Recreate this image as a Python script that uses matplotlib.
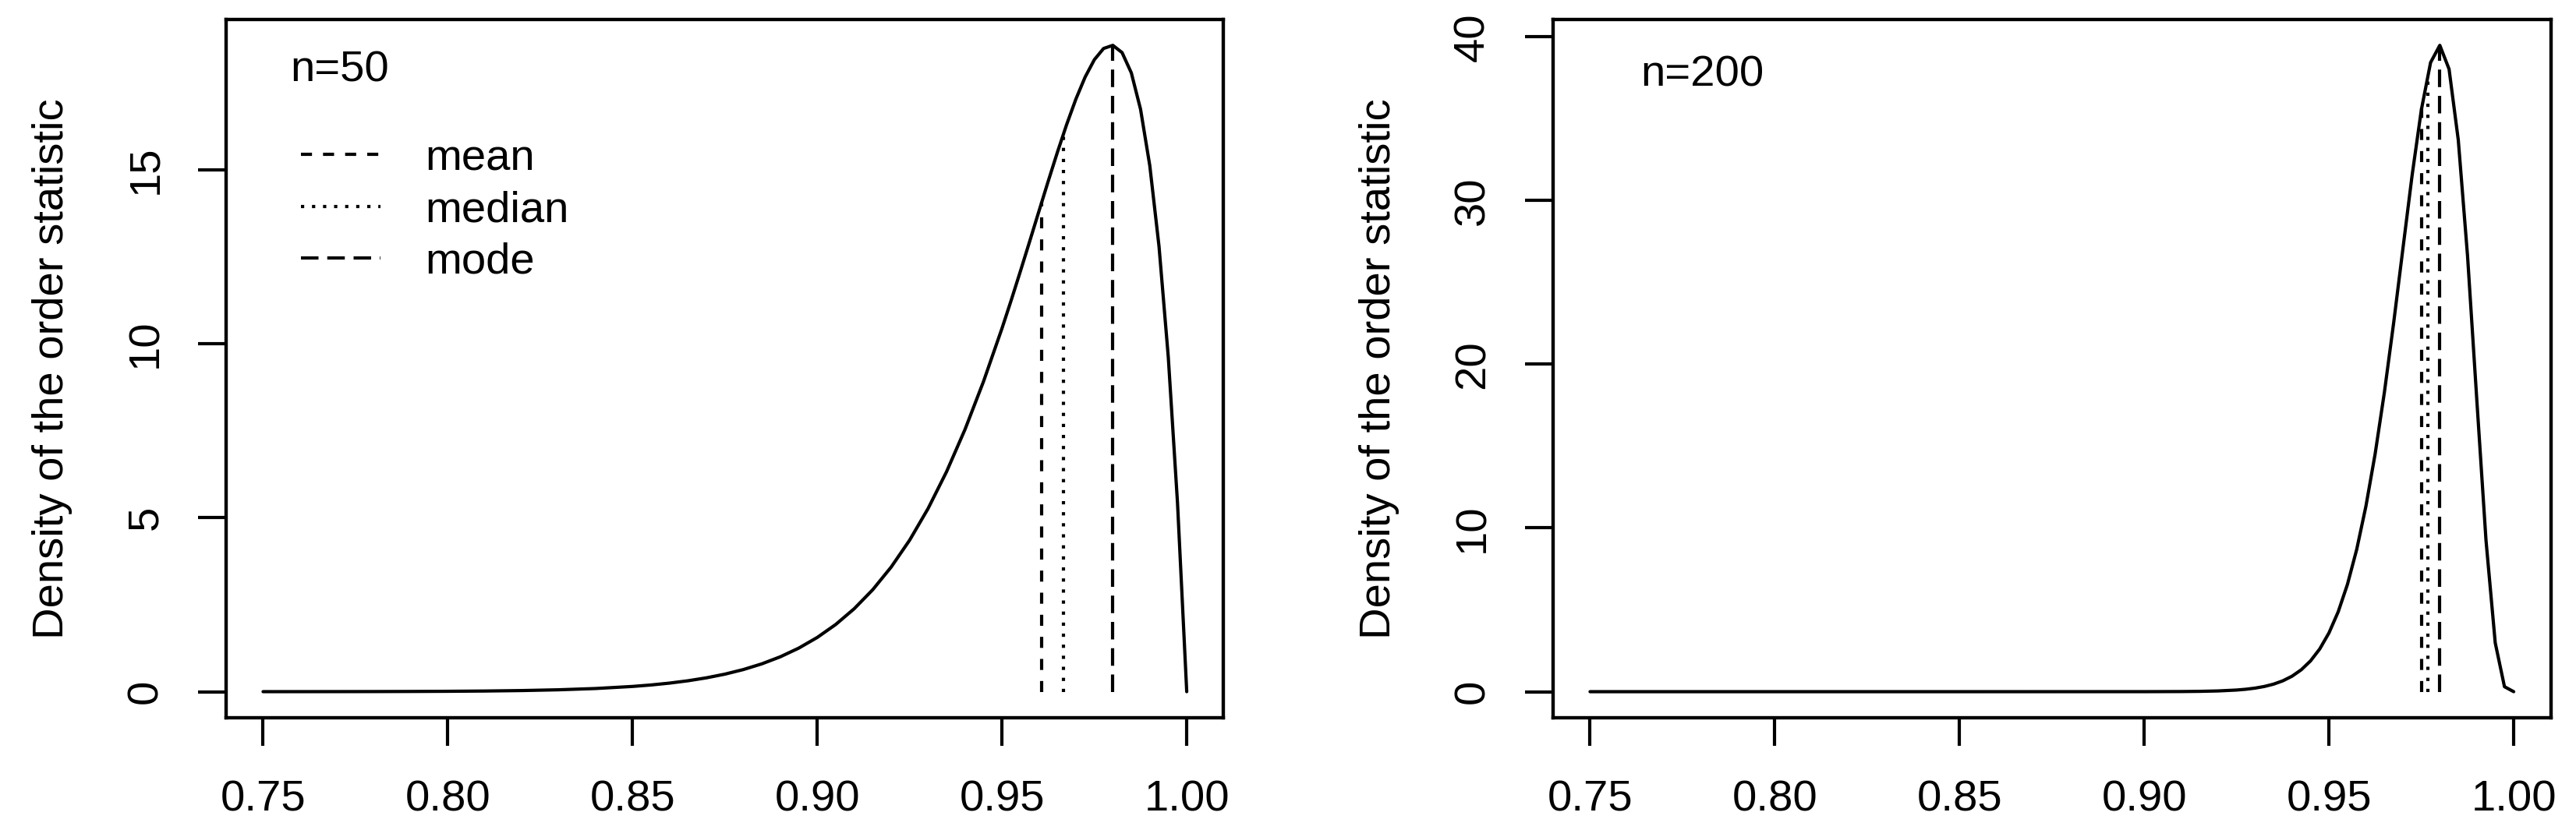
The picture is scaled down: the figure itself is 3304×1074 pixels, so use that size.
import matplotlib
matplotlib.use('Agg')
import matplotlib.pyplot as plt
from matplotlib.lines import Line2D

plt.rcParams['font.family'] = ['Liberation Sans', 'DejaVu Sans']

# density of the order statistic, n=50
x50 = [0.75, 0.76, 0.77, 0.78, 0.79, 0.80, 0.81, 0.82, 0.83, 0.84, 0.85,
       0.855, 0.86, 0.865, 0.87, 0.875, 0.88, 0.885, 0.89, 0.895, 0.90,
       0.905, 0.91, 0.915, 0.92, 0.925, 0.93, 0.935, 0.94, 0.945, 0.95,
       0.9525, 0.955, 0.9575, 0.96, 0.9625, 0.965, 0.9675, 0.97, 0.9725,
       0.975, 0.9775, 0.98, 0.9825, 0.985, 0.9875, 0.99, 0.9925, 0.995,
       0.9975, 1.0]
y50 = [0.000617, 0.001118, 0.002006, 0.003566, 0.006276, 0.01093, 0.01885,
       0.03217, 0.05438, 0.09093, 0.1505,
       0.1927, 0.2462, 0.3135, 0.3981, 0.5040, 0.6361, 0.8001, 1.0029, 1.2527, 1.5588,
       1.9320, 2.3844, 2.9296, 3.5817, 4.3553, 5.2656, 6.3245, 7.5413, 8.9179, 10.444,
       11.255, 12.093, 12.948, 13.812, 14.671, 15.508, 16.304, 17.035, 17.668,
       18.168, 18.49, 18.58, 18.372, 17.79, 16.743, 15.124, 12.80, 9.630,
       5.432, 0.0]

# density of the order statistic, n=200
x200 = [0.75, 0.80, 0.85, 0.90, 0.91, 0.915, 0.92, 0.925, 0.9275, 0.93,
        0.9325, 0.935, 0.9375, 0.94, 0.9425, 0.945, 0.9475, 0.95, 0.9525,
        0.955, 0.9575, 0.96, 0.9625, 0.965, 0.9675, 0.97, 0.9725, 0.975,
        0.9775, 0.98, 0.9825, 0.985, 0.9875, 0.99, 0.9925, 0.995, 0.9975, 1.0]
y200 = [0.0, 0.0, 0.0, 0.0015, 0.0086, 0.0199, 0.0451, 0.1002, 0.1481, 0.2176,
        0.3175, 0.4602, 0.6621, 0.9454, 1.3385, 1.8782, 2.6100, 3.5902, 4.8811,
        6.5545, 8.6825, 11.330, 14.533, 18.288, 22.517, 27.04, 31.54, 35.54,
        38.43, 39.48, 38.03, 33.69, 26.63, 17.86, 9.242, 2.981, 0.304, 0.0]

# mean, median, mode and the density at each
stats50 = [0.9608, 0.9667, 0.98]
heights50 = [14.08, 16.06, 18.58]
stats200 = [0.9751, 0.9767, 0.98]
heights200 = [35.70, 37.68, 39.48]

stat_names = ['mean', 'median', 'mode']
xticks = [0.75, 0.80, 0.85, 0.90, 0.95, 1.00]
yticks50 = [0, 5, 10, 15]
yticks200 = [0, 10, 20, 30, 40]

lw = 1.0
styles = [(0, (3.4, 3.4)), (0, (1, 2.4)), (0, (5.4, 2.7))]
fs = 13.5

fig = plt.figure(figsize=(3304 / 300, 1074 / 300), dpi=300)
ax1 = fig.add_axes([290 / 3304, 1 - 920.7 / 1074, 1279.5 / 3304, 895.7 / 1074])
ax2 = fig.add_axes([1992 / 3304, 1 - 920.7 / 1074, 1279.5 / 3304, 895.7 / 1074])


def draw(ax, x, y, stats, heights, yticks, label, label_y):
    ax.plot(x, y, color='black', lw=lw, solid_joinstyle='round', solid_capstyle='round')
    for s, h, st in zip(stats, heights, styles):
        ax.vlines(s, 0, h, colors='black', lw=lw, linestyles=[st], capstyle='butt')
    ax.margins(x=0.04, y=0.04)
    ax.set_xticks(xticks)
    ax.set_xticklabels(['%.2f' % t for t in xticks])
    ax.set_yticks(yticks)
    ax.set_yticklabels([str(t) for t in yticks], rotation=90, va='center')
    ax.tick_params(axis='both', direction='out', length=8.64, width=lw,
                   labelsize=fs, color='black')
    ax.tick_params(axis='x', pad=10.6)
    ax.tick_params(axis='y', pad=9.8)
    for sp in ax.spines.values():
        sp.set_linewidth(1.05)
    ax.set_ylabel('Density of the order statistic', fontsize=fs)
    ax.yaxis.set_label_coords(-0.154, 0.5)
    ax.text(label[1], label_y, label[0], transform=ax.transAxes, fontsize=fs,
            ha='left', va='baseline')


draw(ax1, x50, y50, stats50, heights50, yticks50, ('n=50', 0.064), 0.9107)
draw(ax2, x200, y200, stats200, heights200, yticks200, ('n=200', 0.0877), 0.9051)

handles = [Line2D([0], [0], color='black', lw=lw, linestyle=st, dash_capstyle='butt')
           for st in styles]
ax1.legend(handles, stat_names, loc='upper left', bbox_to_anchor=(0.0753, 0.829),
           frameon=False, fontsize=fs, handlelength=1.81, handletextpad=1.01,
           labelspacing=0.25, borderpad=0, borderaxespad=0)

fig.savefig('out.png', dpi=300)
